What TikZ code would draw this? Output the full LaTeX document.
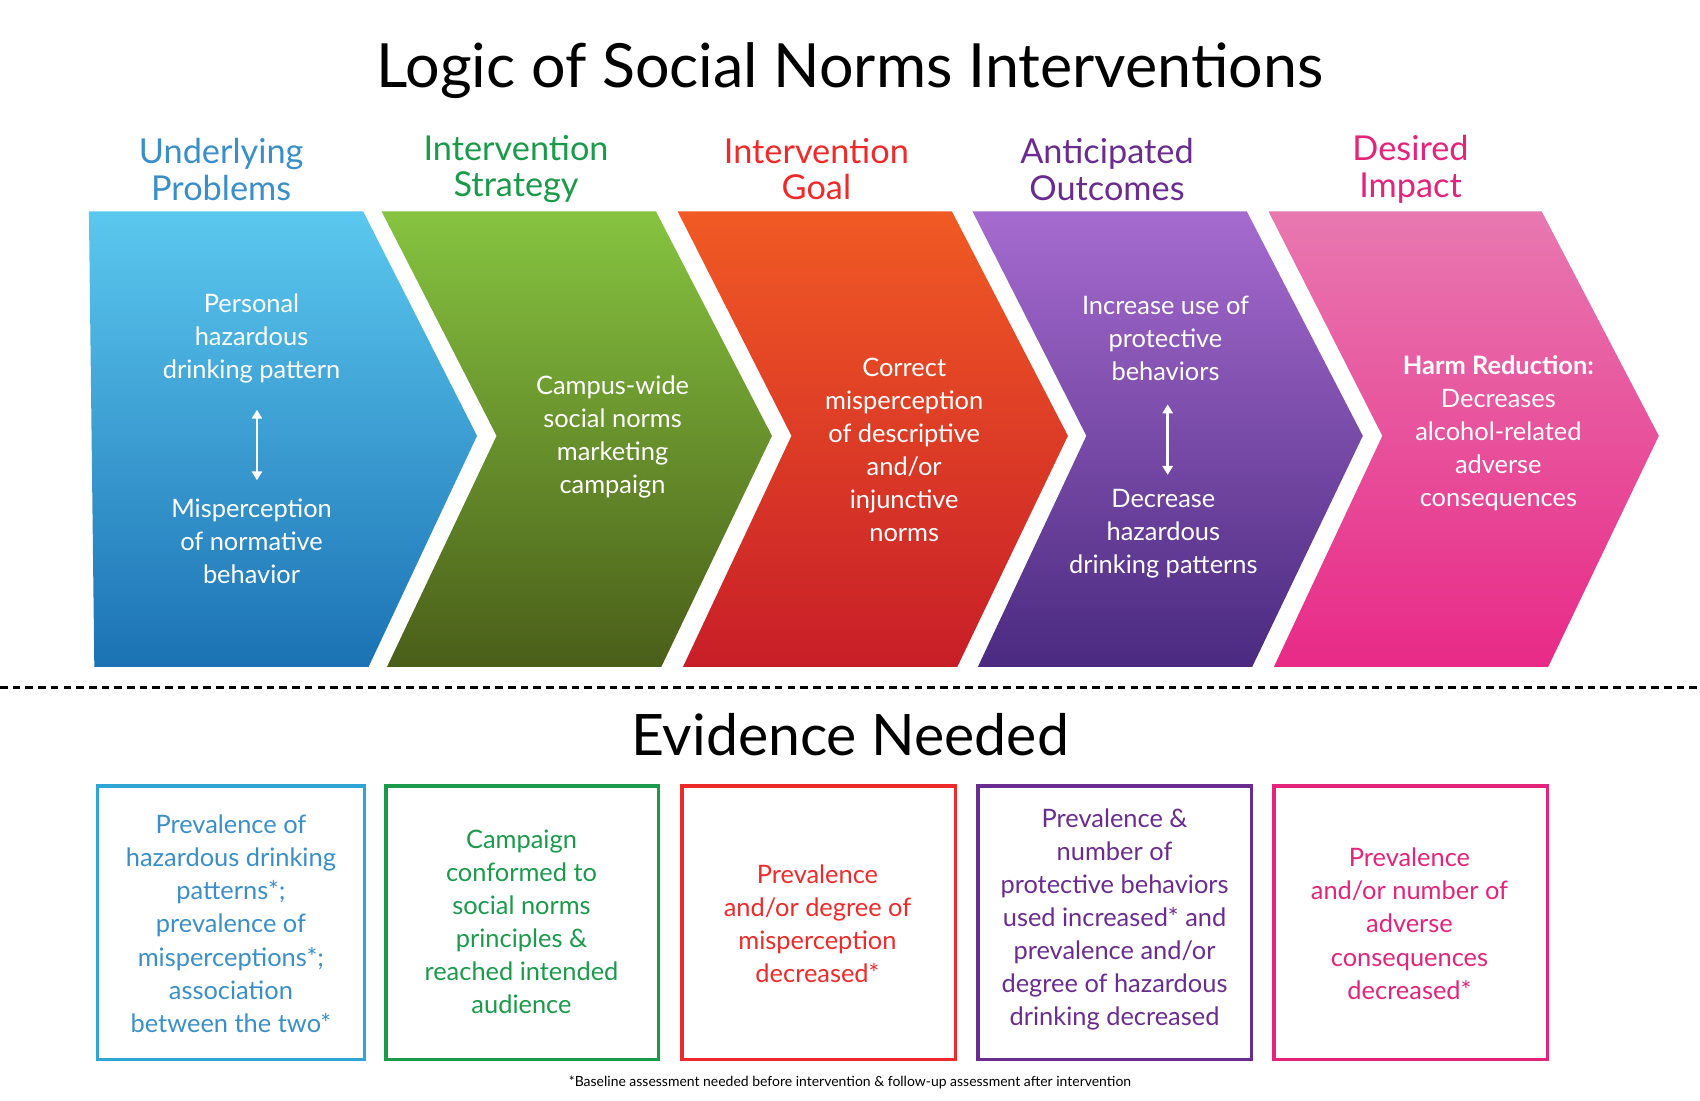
\documentclass[tikz,border=0pt]{standalone}
\usepackage{fontspec}
\setmainfont{Lato}
\usetikzlibrary{arrows.meta}
\definecolor{cb}{HTML}{3A8FC9}\definecolor{cg}{HTML}{1A9A4A}\definecolor{cr}{HTML}{EE2A2A}
\definecolor{cp}{HTML}{6A2C91}\definecolor{ck}{HTML}{E4247A}
\tikzset{
 head/.style={font=\fontsize{27}{29}\selectfont, align=center},
 ctext/.style={font=\fontsize{20}{26}\selectfont, align=center, text=white},
 etext/.style={font=\fontsize{20}{26}\selectfont, align=center},
 ebox/.style={draw, line width=2.5pt},
 dbl/.style={{Triangle[length=7pt,width=8pt]}-{Triangle[length=7pt,width=8pt]}, white, line width=2pt}
}
\begin{document}
\begin{tikzpicture}[x=0.03cm,y=-0.03cm]
\useasboundingbox (0,0) rectangle (1568,1015);
\node[font=\fontsize{48}{52}\selectfont] (title) at (784,65) {Logic of Social Norms Interventions};
% chevrons
\shade[top color=cyan!55!blue!60!white, top color={rgb,255:red,91;green,200;blue,239}, bottom color={rgb,255:red,28;green,114;blue,180}]
 (82,195) -- (335,195) -- (440,402) -- (340,615) -- (87,615) -- cycle;
\shade[top color={rgb,255:red,134;green,196;blue,64}, bottom color={rgb,255:red,74;green,94;blue,25}]
 (352,195) -- (605,195) -- (712,402) -- (610,615) -- (357,615) -- (458,402) -- cycle;
\shade[top color={rgb,255:red,241;green,90;blue,36}, bottom color={rgb,255:red,200;green,30;blue,40}]
 (625,195) -- (878,195) -- (985,402) -- (883,615) -- (630,615) -- (730,402) -- cycle;
\shade[top color={rgb,255:red,166;green,107;blue,207}, bottom color={rgb,255:red,74;green,42;blue,128}]
 (897,195) -- (1150,195) -- (1257,402) -- (1155,615) -- (902,615) -- (1002,402) -- cycle;
\shade[top color={rgb,255:red,232;green,120;blue,176}, bottom color={rgb,255:red,232;green,42;blue,135}]
 (1170,195) -- (1422,195) -- (1530,402) -- (1428,615) -- (1175,615) -- (1275,402) -- cycle;
% headings
\node[head, text=cb] (h1) at (204,156) {Underlying\\Problems};
\node[head, text=cg] (h2) at (476,156) {Intervention\\Strategy};
\node[head, text=cr] (h3) at (753,156) {Intervention\\Goal};
\node[head, text=cp] (h4) at (1021,156) {Anticipated\\Outcomes};
\node[head, text=ck] (h5) at (1301,156) {Desired\\Impact};
% chevron texts
\node[ctext] (c1a) at (232,312) {Personal\\hazardous\\drinking pattern};
\node[ctext] (c1b) at (232,499) {Misperception\\of normative\\behavior};
\draw[dbl] (237,378) -- (237,443);
\node[ctext] (c2) at (565,403) {Campus-wide\\social norms\\marketing\\campaign};
\node[ctext] (c3) at (834,415) {Correct\\misperception\\of descriptive\\and/or\\injunctive\\norms};
\node[ctext] (c4a) at (1075,312) {Increase use of\\protective\\behaviors};
\node[ctext] (c4b) at (1073,492) {Decrease\\hazardous\\drinking patterns};
\draw[dbl] (1077,373) -- (1077,438);
\node[ctext] (c5) at (1382,400) {\textbf{Harm Reduction:}\\Decreases\\alcohol-related\\adverse\\consequences};
% dashed line
\draw[line width=2.5pt, dash pattern=on 6pt off 4pt] (0,634) -- (1568,634);
\node[font=\fontsize{45}{50}\selectfont] (ev) at (784,678) {Evidence Needed};
% boxes
\draw[ebox, draw=cb!80!cyan] (90,725) rectangle (336,977);
\node[etext, text=cb] (e1) at (213,852) {Prevalence of\\hazardous drinking\\patterns*;\\prevalence of\\misperceptions*;\\association\\between the two*};
\draw[ebox, draw=cg] (356,725) rectangle (607,977);
\node[etext, text=cg] (e2) at (481,850) {Campaign\\conformed to\\social norms\\principles \&\\reached intended\\audience};
\draw[ebox, draw=cr] (629,725) rectangle (881,977);
\node[etext, text=cr] (e3) at (754,852) {Prevalence\\and/or degree of\\misperception\\decreased*};
\draw[ebox, draw=cp] (902,725) rectangle (1154,977);
\node[etext, text=cp] (e4) at (1028,848) {Prevalence \&\\number of\\protective behaviors\\used increased* and\\prevalence and/or\\degree of hazardous\\drinking decreased};
\draw[ebox, draw=ck] (1175,725) rectangle (1427,977);
\node[etext, text=ck] (e5) at (1300,852) {Prevalence\\and/or number of\\adverse\\consequences\\decreased*};
\node[font=\fontsize{11}{12}\selectfont] (fn) at (784,998) {*Baseline assessment needed before intervention \& follow-up assessment after intervention};
\end{tikzpicture}
\end{document}
